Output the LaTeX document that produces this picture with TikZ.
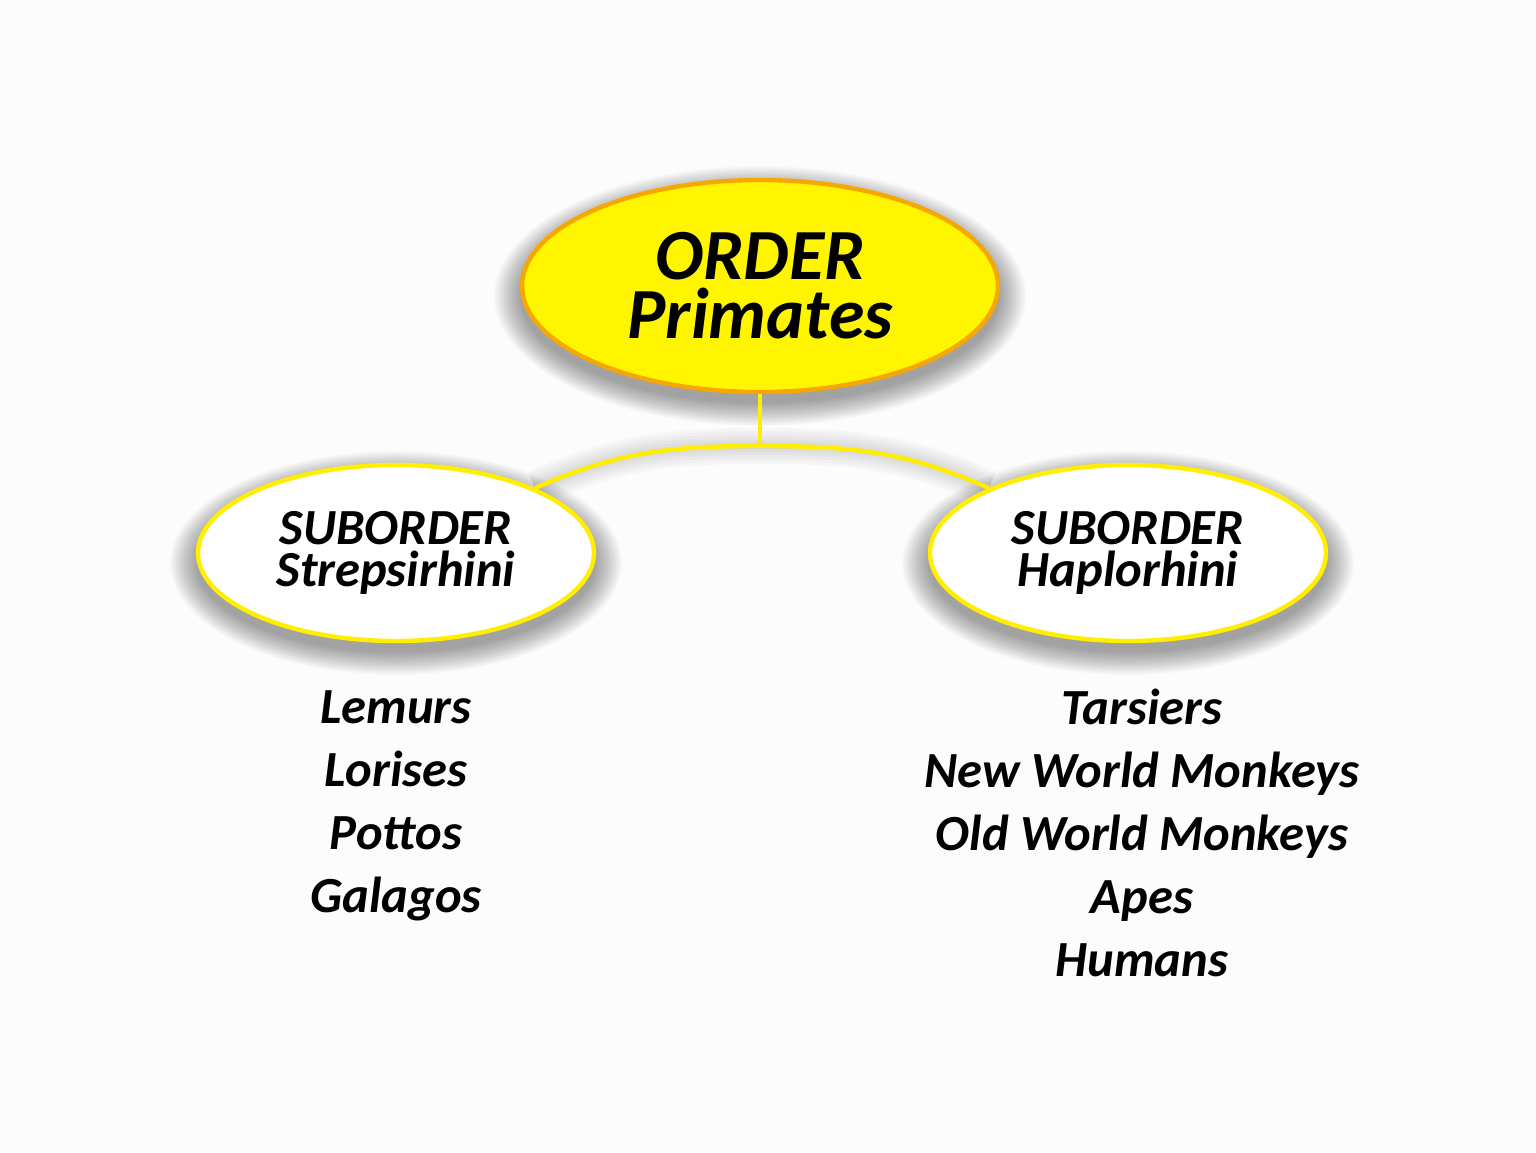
\documentclass[tikz,border=0pt]{standalone}
\usepackage{fontspec}
\setmainfont{Carlito}
\usetikzlibrary{shapes.geometric,backgrounds}

\definecolor{orderFill}{HTML}{FFF500}
\definecolor{orderEdge}{HTML}{F7A800}
\definecolor{linkYellow}{HTML}{FFEE00}

\tikzset{
  ordernode/.style={ellipse, fill=orderFill, draw=orderEdge, line width=2.2pt,
    minimum width=238pt, minimum height=106pt, inner sep=0pt, align=center,
    font=\fontsize{36}{29.5}\selectfont\bfseries\itshape},
  subnode/.style={ellipse, fill=white, draw=linkYellow, line width=2.2pt,
    minimum width=198pt, minimum height=88pt, inner sep=0pt, align=center,
    font=\fontsize{25.3}{21}\selectfont\bfseries\itshape},
  listnode/.style={align=center, inner sep=0pt,
    font=\fontsize{25.3}{31.6}\selectfont\bfseries\itshape},
  link/.style={draw=linkYellow, line width=2.2pt},
}

\begin{document}
\begin{tikzpicture}[x=0.5pt, y=-0.5pt]
      \useasboundingbox (0,0) rectangle (1536,1152);

      % the three ranks
      \node[ordernode] (order) at (760,286) {ORDER\\Primates};
      \node[subnode] (strep) at (396,553) {SUBORDER\\Strepsirhini};
      \node[subnode] (haplo) at (1128,553) {SUBORDER\\Haplorhini};

      % members of each suborder
      \node[listnode] (strepList) at (396,806) {Lemurs\\Lorises\\Pottos\\Galagos};
      \node[listnode] (haploList) at (1142,833) {Tarsiers\\New World Monkeys\\Old World Monkeys\\Apes\\Humans};

      % links
      \coordinate (fork) at (760,446);
      \draw[link] (order.south) -- (fork);
      \draw[link] (strep.25) to[out=24, in=180] (fork) to[out=0, in=156] (haplo.155);

      % page and soft shadows
      \begin{scope}[on background layer]
        \fill[white!99!black] (0,0) rectangle (1536,1152);
        \foreach \n/\rx/\ry in {order/119/53, strep/99/44, haplo/99/44} {
          \foreach \k in {1,...,20} {
            \fill[black, opacity=0.018] ([yshift=-5pt]\n.center)
              ellipse [x radius={\rx*1pt+\k*0.7pt}, y radius={\ry*1pt+\k*0.6pt}];
          }
        }
        \foreach \w in {3,6,...,18} {
          \draw[black, opacity=0.022, line width=\w pt, yshift=-6pt]
            (strep.25) to[out=24, in=180] (fork) to[out=0, in=156] (haplo.155);
        }
      \end{scope}
    \end{tikzpicture}
\end{document}
